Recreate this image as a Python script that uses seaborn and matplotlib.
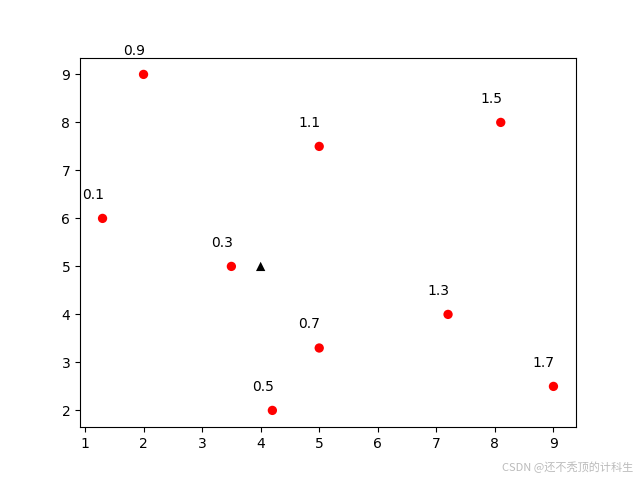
import matplotlib
matplotlib.use("Agg")
import matplotlib.pyplot as plt
import seaborn as sns
import pandas as pd

# data points and their labels
xs = [1.3, 2, 3.5, 5, 8.1, 7.2, 5, 4.2, 9]
ys = [6, 9, 5, 7.5, 8, 4, 3.3, 2, 2.5]
labels = ["0.1", "0.9", "0.3", "1.1", "1.5", "1.3", "0.7", "0.5", "1.7"]
query_x = [4]
query_y = [5]

df = pd.DataFrame({"x": xs, "y": ys, "label": labels})

fig, ax = plt.subplots(figsize=(6.4, 4.8), dpi=100)
sns.scatterplot(data=df, x="x", y="y", color="red", s=45, edgecolor="none", ax=ax)
sns.scatterplot(x=query_x, y=query_y, color="black", marker="^", s=45, edgecolor="none", ax=ax)

for _, r in df.iterrows():
    ax.annotate(r["label"], (r["x"], r["y"]), xytext=(-7, 12),
                textcoords="offset points", ha="center", va="bottom", fontsize=10)

ax.set_xlabel("")
ax.set_ylabel("")
ax.set_xticks(range(1, 10))
ax.set_yticks(range(2, 10))

fig.text(0.99, 0.015, "CSDN @还不秃顶的计科生", ha="right", va="bottom",
         fontsize=8, color="#bbbbbb", family=["Noto Sans CJK SC", "DejaVu Sans"])

fig.savefig("out.png", dpi=100)
